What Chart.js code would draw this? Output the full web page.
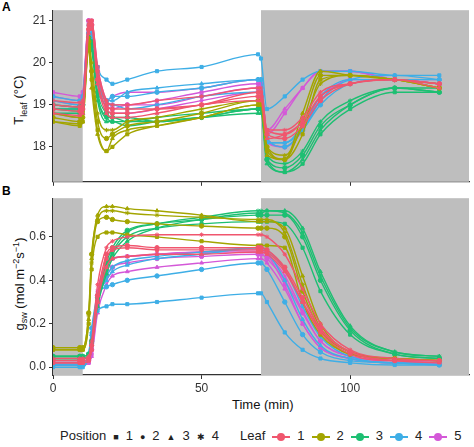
<!DOCTYPE html>
<html>
<head>
<meta charset="utf-8">
<script src="https://cdn.jsdelivr.net/npm/chart.js@4"></script>
<style>
  body { margin: 0; width: 474px; height: 447px; background: #fff; font-family: Arial, "Liberation Sans", sans-serif; position: relative; overflow: hidden; }
  canvas { position: absolute; left: 0; }
  .lab { position: absolute; font-size: 13px; color: #111; white-space: nowrap; }
  .rot { transform: translate(-50%, -50%) rotate(-90deg); }
  .panel { position: absolute; font-weight: bold; font-size: 12px; }
  #legend { position: absolute; left: 60px; top: 428px; font-size: 13px; color: #222; white-space: nowrap; }
  #legend span { margin-right: 7px; }
  .sw { display: inline-block; position: relative; width: 18px; height: 10px; vertical-align: middle; }
  .sw i { position: absolute; left: 0; top: 4px; width: 18px; height: 2px; }
  .sw b { position: absolute; left: 5px; top: 1px; width: 8px; height: 8px; border-radius: 50%; }
</style>
</head>
<body>
<div class="panel" style="left:2px;top:0px">A</div>
<div class="panel" style="left:2px;top:184px">B</div>
<div class="lab rot" style="left:20px;top:100px">T<sub style="font-size:9px">leaf</sub> (°C)</div>
<div class="lab rot" style="left:20px;top:284px">g<sub style="font-size:9px">sw</sub> (mol m<sup style="font-size:9px">−2</sup>s<sup style="font-size:9px">−1</sup>)</div>
<div class="lab" style="left:232px;top:397px">Time (min)</div>
<canvas id="chartA" width="474" height="192" style="top:0"></canvas>
<canvas id="chartB" width="474" height="210" style="top:188px"></canvas>
<div id="legend"></div>
<script>
(function() {
    'use strict';

    const time = [0, 9, 10, 12, 13, 15, 18, 20, 25, 35, 50, 69, 70, 72, 78, 84, 90, 100, 115, 130];
    const leaves = ['1', '2', '3', '4', '5'];
    const positions = ['1', '2', '3', '4'];
    const tempTicks = [18, 19, 20, 21];
    const gswTicks = [0, 0.2, 0.4, 0.6];
    const timeTicks = [0, 50, 100];
    const darkPeriods = [[0, 10], [70, 140]];

    // leaf temperature, [leaf][position]
    const tleaf1 = [
        [19.0,18.95,19.0,20.9,21.0,19.8,19.0,18.9,18.9,18.9,19.0,19.3,19.3,18.4,18.3,18.6,19.2,19.5,19.6,19.5],
        [18.9,18.85,18.9,20.8,20.9,19.6,18.9,18.8,18.8,18.9,19.0,19.2,19.2,18.3,18.2,18.5,19.1,19.5,19.6,19.5],
        [18.8,18.75,18.8,20.7,20.8,19.5,18.8,18.7,18.7,18.8,19.0,19.1,19.1,18.2,18.3,18.6,19.2,19.5,19.6,19.4],
        [19.1,19.05,19.1,21.0,21.0,19.9,19.1,19.0,19.0,19.1,19.2,19.4,19.4,18.4,18.4,18.7,19.3,19.5,19.6,19.5]
    ];
    const tleaf2 = [
        [18.6,18.5,18.6,20.4,19.6,18.4,17.9,18.0,18.3,18.5,18.7,19.0,19.0,17.9,17.7,18.3,19.6,19.7,19.6,19.4],
        [18.7,18.6,18.7,20.5,19.8,18.6,18.2,18.3,18.5,18.6,18.8,19.1,19.1,18.0,17.7,18.6,19.7,19.7,19.6,19.4],
        [18.6,18.55,18.6,20.3,19.4,18.3,17.9,18.2,18.4,18.5,18.7,19.0,19.0,17.8,17.7,18.8,19.8,19.7,19.6,19.5],
        [18.8,18.7,18.8,20.6,20.0,18.8,18.4,18.4,18.6,18.7,18.9,19.1,19.1,18.0,17.8,18.5,19.5,19.7,19.6,19.4]
    ];
    const tleaf3 = [
        [18.9,18.85,18.9,20.5,20.4,19.2,18.7,18.6,18.6,18.6,18.7,18.9,18.9,17.7,17.4,17.6,18.3,18.9,19.3,19.3],
        [19.0,18.95,19.0,20.6,20.5,19.3,18.8,18.7,18.7,18.6,18.7,18.9,18.9,17.7,17.5,17.8,18.5,19.0,19.4,19.3],
        [18.8,18.8,18.8,20.4,20.3,19.1,18.6,18.6,18.5,18.6,18.7,18.8,18.8,17.6,17.4,17.7,18.4,19.0,19.4,19.3],
        [18.9,18.9,18.9,20.5,20.4,19.2,18.7,18.7,18.6,18.7,18.8,18.9,18.9,17.8,17.6,17.9,18.6,19.1,19.4,19.4]
    ];
    const tleaf4 = [
        [19.2,19.1,19.2,20.9,20.8,19.9,19.6,19.5,19.6,19.8,19.9,20.2,20.1,18.9,19.2,19.6,19.8,19.8,19.7,19.7],
        [19.0,18.95,19.0,20.7,20.6,19.6,19.1,19.2,19.2,19.3,19.4,19.6,19.6,18.2,18.0,18.4,19.0,19.5,19.6,19.6],
        [19.1,19.0,19.1,20.8,20.7,19.7,19.1,19.1,19.3,19.4,19.5,19.6,19.6,18.1,18.1,18.4,19.1,19.6,19.7,19.6],
        [18.9,18.9,18.9,20.6,20.5,19.5,19.0,19.0,18.9,19.0,19.2,19.3,19.3,18.1,18.1,18.5,19.2,19.6,19.6,19.5]
    ];
    const tleaf5 = [
        [19.3,19.2,19.3,21.0,21.0,19.9,19.1,19.0,19.0,19.1,19.3,19.5,19.5,18.3,18.8,19.4,19.8,19.8,19.6,19.5],
        [19.2,19.1,19.2,21.0,20.9,19.8,19.0,18.9,19.0,19.0,19.2,19.4,19.4,18.2,18.0,18.4,19.1,19.6,19.6,19.5],
        [19.1,19.0,19.1,20.9,20.9,19.8,19.1,19.2,19.3,19.3,19.4,19.6,19.5,18.4,18.9,19.4,19.8,19.8,19.6,19.6],
        [18.8,18.7,18.8,20.7,20.7,19.6,18.9,18.8,18.8,18.9,19.1,19.3,19.3,18.1,18.0,18.4,19.2,19.5,19.6,19.5]
    ];

    // stomatal conductance, [leaf][position]
    const gsw1 = [
        [0.02,0.02,0.02,0.03,0.08,0.30,0.50,0.54,0.55,0.54,0.54,0.54,0.54,0.53,0.45,0.30,0.16,0.06,0.03,0.03],
        [0.03,0.03,0.03,0.04,0.10,0.33,0.52,0.55,0.56,0.55,0.55,0.55,0.55,0.54,0.46,0.32,0.18,0.07,0.03,0.03],
        [0.02,0.02,0.02,0.03,0.08,0.30,0.46,0.50,0.51,0.52,0.52,0.53,0.53,0.52,0.44,0.30,0.17,0.07,0.03,0.02],
        [0.04,0.04,0.04,0.05,0.12,0.38,0.55,0.58,0.60,0.61,0.61,0.61,0.61,0.60,0.52,0.36,0.20,0.08,0.04,0.03]
    ];
    const gsw2 = [
        [0.08,0.08,0.08,0.20,0.45,0.60,0.62,0.62,0.61,0.60,0.58,0.56,0.56,0.56,0.55,0.30,0.15,0.06,0.04,0.03],
        [0.09,0.09,0.09,0.25,0.52,0.67,0.69,0.68,0.67,0.66,0.65,0.64,0.64,0.64,0.60,0.35,0.17,0.06,0.04,0.03],
        [0.08,0.08,0.08,0.22,0.50,0.70,0.74,0.74,0.73,0.72,0.70,0.67,0.67,0.67,0.64,0.42,0.20,0.07,0.04,0.03],
        [0.09,0.09,0.09,0.24,0.48,0.68,0.72,0.72,0.71,0.70,0.69,0.68,0.68,0.68,0.62,0.38,0.18,0.07,0.04,0.03]
    ];
    const gsw3 = [
        [0.04,0.04,0.04,0.05,0.10,0.30,0.45,0.52,0.60,0.64,0.66,0.67,0.67,0.67,0.66,0.55,0.35,0.15,0.06,0.04],
        [0.05,0.05,0.05,0.06,0.12,0.32,0.48,0.55,0.63,0.66,0.68,0.70,0.70,0.70,0.70,0.60,0.40,0.17,0.06,0.04],
        [0.04,0.04,0.04,0.05,0.10,0.28,0.43,0.50,0.58,0.64,0.68,0.71,0.71,0.72,0.72,0.64,0.44,0.19,0.07,0.05],
        [0.05,0.05,0.05,0.06,0.11,0.30,0.46,0.53,0.62,0.66,0.69,0.72,0.72,0.72,0.71,0.62,0.42,0.18,0.07,0.05]
    ];
    const gsw4 = [
        [0.00,0.00,0.00,0.05,0.15,0.26,0.28,0.29,0.29,0.30,0.32,0.34,0.34,0.30,0.16,0.08,0.04,0.02,0.01,0.01],
        [0.01,0.01,0.01,0.06,0.18,0.33,0.37,0.38,0.40,0.42,0.45,0.48,0.48,0.45,0.30,0.15,0.07,0.03,0.02,0.01],
        [0.01,0.01,0.01,0.05,0.15,0.32,0.40,0.44,0.47,0.50,0.52,0.55,0.55,0.53,0.40,0.22,0.10,0.04,0.02,0.01],
        [0.02,0.02,0.02,0.06,0.16,0.33,0.42,0.46,0.49,0.51,0.53,0.55,0.55,0.54,0.45,0.28,0.14,0.05,0.02,0.02]
    ];
    const gsw5 = [
        [0.01,0.01,0.01,0.02,0.06,0.28,0.45,0.50,0.51,0.52,0.53,0.54,0.54,0.52,0.38,0.20,0.09,0.04,0.02,0.02],
        [0.02,0.02,0.02,0.03,0.08,0.30,0.42,0.46,0.48,0.50,0.51,0.52,0.52,0.50,0.40,0.25,0.12,0.05,0.03,0.02],
        [0.01,0.01,0.01,0.02,0.05,0.25,0.38,0.42,0.44,0.46,0.48,0.50,0.50,0.48,0.36,0.20,0.09,0.04,0.02,0.02],
        [0.03,0.03,0.03,0.04,0.10,0.35,0.48,0.50,0.51,0.52,0.53,0.53,0.53,0.52,0.42,0.26,0.12,0.05,0.03,0.03]
    ];

    const leafColors = ['#F0566E', '#A3A500', '#1DBF72', '#3EAEE6', '#D458D8'];
    const posStyles = ['rect', 'circle', 'triangle', 'star'];

    function buildDatasets(byLeaf) {
        const sets = [];
        byLeaf.forEach(function(leafData, li) {
            leafData.forEach(function(vals, pi) {
                sets.push({
                    data: vals.map(function(v, i) { return { x: time[i], y: v }; }),
                    borderColor: leafColors[li],
                    backgroundColor: leafColors[li],
                    borderWidth: 1.4,
                    pointStyle: posStyles[pi],
                    pointRadius: 2.2,
                    pointBorderWidth: 1,
                    cubicInterpolationMode: 'monotone'
                });
            });
        });
        return sets;
    }

    const shading = {
        id: 'shading',
        beforeDatasetsDraw: function(chart) {
            const x = chart.scales.x, a = chart.chartArea, ctx = chart.ctx;
            ctx.save();
            ctx.fillStyle = '#BEBEBE';
            darkPeriods.forEach(function(p) {
                const x0 = x.getPixelForValue(p[0]), x1 = x.getPixelForValue(p[1]);
                ctx.fillRect(x0, a.top, x1 - x0, a.bottom - a.top);
            });
            ctx.restore();
        }
    };

    function makeChart(id, sets, yMin, yMax, yTicks, fmt, showX, xHeight, padTop) {
        return new Chart(document.getElementById(id), {
            type: 'line',
            data: { datasets: sets },
            plugins: [shading],
            options: {
                responsive: false,
                animation: false,
                layout: { padding: { top: padTop, right: 1, left: 0, bottom: 0 } },
                plugins: { legend: { display: false }, tooltip: { enabled: false } },
                scales: {
                    x: {
                        type: 'linear', min: 0, max: 140,
                        afterBuildTicks: function(s) { s.ticks = timeTicks.map(function(v) { return { value: v }; }); },
                        afterFit: function(s) { s.height = xHeight; },
                        grid: { display: true, drawOnChartArea: false, drawTicks: true, tickLength: 4, color: '#333' },
                        border: { display: true, color: '#333', width: 1.2 },
                        ticks: { display: showX, color: '#333', font: { size: 12, family: 'Arial' }, padding: 2 }
                    },
                    y: {
                        min: yMin, max: yMax,
                        afterBuildTicks: function(s) { s.ticks = yTicks.map(function(v) { return { value: v }; }); },
                        afterFit: function(s) { s.width = 53; },
                        grid: { display: true, drawOnChartArea: false, drawTicks: true, tickLength: 4, color: '#333' },
                        border: { display: true, color: '#333', width: 1.2 },
                        ticks: { color: '#333', font: { size: 12, family: 'Arial' }, padding: 3, callback: fmt }
                    }
                }
            }
        });
    }

    function init() {
        makeChart('chartA', buildDatasets([tleaf1, tleaf2, tleaf3, tleaf4, tleaf5]),
            17.17, 21.25, tempTicks, function(v) { return v; }, false, 7, 3);
        makeChart('chartB', buildDatasets([gsw1, gsw2, gsw3, gsw4, gsw5]),
            -0.036, 0.778, gswTicks, function(v) { return v.toFixed(1); }, true, 23, 4);

        // legend
        const marks = ['■', '●', '▲', '✱'];
        let html = '<span>Position</span>';
        positions.forEach(function(p, i) {
            html += '<span style="font-size:9px">' + marks[i] + '</span><span>' + p + '</span>';
        });
        html += '<span style="margin-left:14px">Leaf</span>';
        leaves.forEach(function(l, i) {
            html += '<span class="sw"><i style="background:' + leafColors[i] + '"></i><b style="background:' +
                leafColors[i] + '"></b></span><span>' + l + '</span>';
        });
        document.getElementById('legend').innerHTML = html;
    }

    init();
})();
</script>
</body>
</html>
